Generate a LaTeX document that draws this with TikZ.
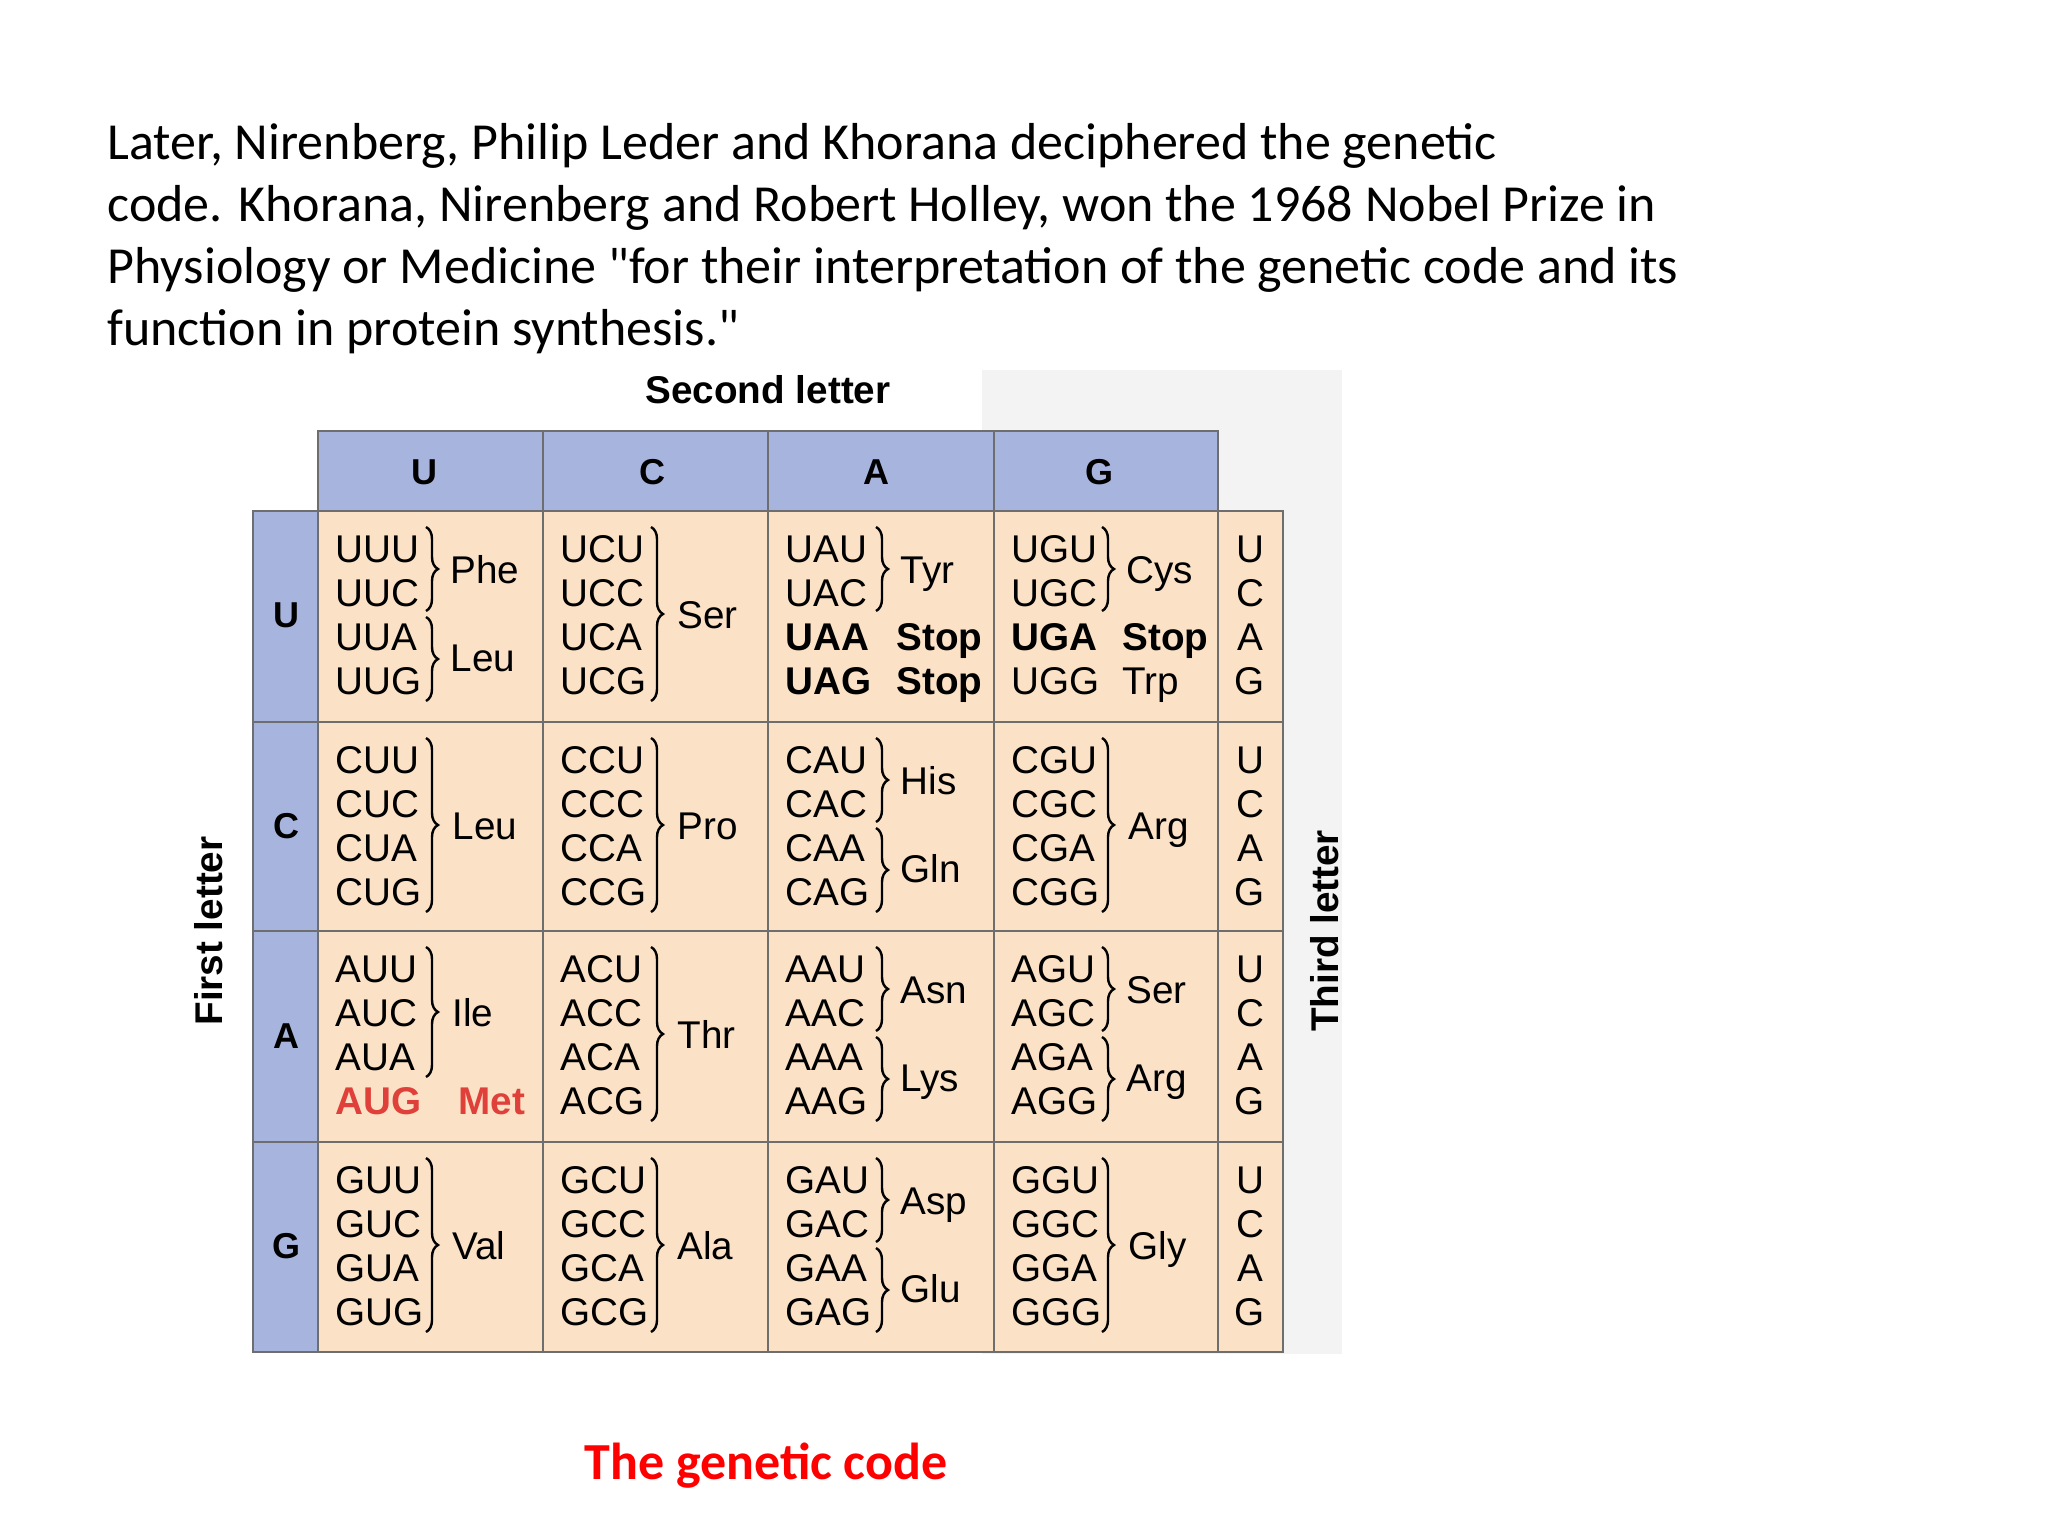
\documentclass[tikz,border=0pt]{standalone}
\usepackage{fontspec}
\setmainfont{Carlito}
\newfontfamily\arial{Liberation Sans}
\usetikzlibrary{decorations.pathreplacing}
\definecolor{hdr}{HTML}{A7B5DE}
\definecolor{peach}{HTML}{FBE2C6}
\definecolor{gridc}{HTML}{6E6E6E}
\definecolor{metred}{HTML}{E0403A}
\definecolor{bggray}{HTML}{F3F3F3}
\tikzset{
  cod/.style={anchor=west,inner sep=0pt,font=\arial\fontsize{14.5}{15}\selectfont,text height=10.5pt,text depth=0pt},
  aa/.style={cod},
  lbl/.style={inner sep=0pt,font=\arial\bfseries\fontsize{13.5}{14}\selectfont,text height=9.8pt,text depth=0pt},
  axl/.style={inner sep=0pt,font=\arial\bfseries\fontsize{14.5}{15}\selectfont},
  br/.style={decorate,decoration={brace,amplitude=4.5pt},line width=0.9pt},
  para/.style={anchor=base west,inner sep=0pt,font=\fontsize{19.5}{23}\selectfont}
}
\newcommand{\codons}[6]{%
  \node[cod] at (#1+17,#2+37) {#3};
  \node[cod] at (#1+17,#2+81) {#4};
  \node[cod] at (#1+17,#2+125) {#5};
  \node[cod] at (#1+17,#2+169) {#6};}
\newcommand{\bfour}[3]{%
  \draw[br] (#1+108,#2+16) -- (#1+108,#2+190);
  \node[aa] at (#1+134,#2+103) {#3};}
\newcommand{\btop}[3]{%
  \draw[br] (#1+108,#2+16) -- (#1+108,#2+100);
  \node[aa] at (#1+132,#2+58) {#3};}
\newcommand{\bbot}[3]{%
  \draw[br] (#1+108,#2+106) -- (#1+108,#2+190);
  \node[aa] at (#1+132,#2+146) {#3};}
\begin{document}
\begin{tikzpicture}[x=0.375pt,y=-0.375pt]
\useasboundingbox (0,0) rectangle (2048,1536);
\fill[white] (0,0) rectangle (2048,1536);
% text
\node[para] (l1) at (107,159) {Later, Nirenberg, Philip Leder and Khorana deciphered the genetic};
\node[para] (l2) at (107,221) {code. Khorana, Nirenberg and Robert Holley, won the 1968 Nobel Prize in};
\node[para] (l3) at (107,283) {Physiology or Medicine \textquotedbl for their interpretation of the genetic code and its};
\node[para] (l4) at (107,345) {function in protein synthesis.\textquotedbl};
% gray backdrop
\fill[bggray] (982,370) rectangle (1342,1354);
% table fills
\fill[hdr] (318,431) rectangle (1218,511);
\fill[hdr] (253,511) rectangle (318,1352);
\fill[peach] (318,511) rectangle (1283,1352);
% grid
\begin{scope}[draw=gridc,line width=1.1pt]
\draw (318,431) rectangle (1218,511);
\foreach \x in {543,768,994} \draw (\x,431) -- (\x,1352);
\draw (253,511) rectangle (1283,1352);
\draw (318,511) -- (318,1352);
\draw (1218,511) -- (1218,1352);
\foreach \y in {722,931,1142} \draw (253,\y) -- (1283,\y);
\end{scope}
% labels
\node[axl] (sec) at (768,390) {Second letter};
\node[axl,rotate=90] (fir) at (209,931) {First letter};
\node[axl,rotate=90] (thi) at (1325,931) {Third letter};
\node[lbl] (hU) at (424,471) {U};
\node[lbl] (hC) at (652,471) {C};
\node[lbl] (hA) at (876,471) {A};
\node[lbl] (hG) at (1099,471) {G};
\node[lbl] (rU) at (286,614) {U};
\node[lbl] (rC) at (286,825) {C};
\node[lbl] (rA) at (286,1035) {A};
\node[lbl] (rG) at (286,1245) {G};
\foreach \y in {511,722,931,1142}{
  \node[cod,anchor=center] at (1250,\y+37) {U};
  \node[cod,anchor=center] at (1250,\y+81) {C};
  \node[cod,anchor=center] at (1250,\y+125) {A};
  \node[cod,anchor=center] at (1250,\y+169) {G};
}
% row U
\codons{318}{511}{UUU}{UUC}{UUA}{UUG}\btop{318}{511}{Phe}\bbot{318}{511}{Leu}
\codons{543}{511}{UCU}{UCC}{UCA}{UCG}\bfour{543}{511}{Ser}
\codons{768}{511}{UAU}{UAC}{\bfseries UAA}{\bfseries UAG}\btop{768}{511}{Tyr}
\node[cod,font=\arial\bfseries\fontsize{14.5}{15}\selectfont] at (768+128,511+125) {Stop};
\node[cod,font=\arial\bfseries\fontsize{14.5}{15}\selectfont] at (768+128,511+169) {Stop};
\codons{994}{511}{UGU}{UGC}{\bfseries UGA}{UGG}\btop{994}{511}{Cys}
\node[cod,font=\arial\bfseries\fontsize{14.5}{15}\selectfont] at (994+128,511+125) {Stop};
\node[cod] at (994+128,511+169) {Trp};
% row C
\codons{318}{722}{CUU}{CUC}{CUA}{CUG}\bfour{318}{722}{Leu}
\codons{543}{722}{CCU}{CCC}{CCA}{CCG}\bfour{543}{722}{Pro}
\codons{768}{722}{CAU}{CAC}{CAA}{CAG}\btop{768}{722}{His}\bbot{768}{722}{Gln}
\codons{994}{722}{CGU}{CGC}{CGA}{CGG}\bfour{994}{722}{Arg}
% row A
\codons{318}{931}{AUU}{AUC}{AUA}{\color{metred}\bfseries AUG}
\draw[br] (318+108,931+16) -- (318+108,931+146);
\node[aa] at (318+134,931+81) {Ile};
\node[cod,text=metred,font=\arial\bfseries\fontsize{14.5}{15}\selectfont] at (318+140,931+169) {Met};
\codons{543}{931}{ACU}{ACC}{ACA}{ACG}\bfour{543}{931}{Thr}
\codons{768}{931}{AAU}{AAC}{AAA}{AAG}\btop{768}{931}{Asn}\bbot{768}{931}{Lys}
\codons{994}{931}{AGU}{AGC}{AGA}{AGG}\btop{994}{931}{Ser}\bbot{994}{931}{Arg}
% row G
\codons{318}{1142}{GUU}{GUC}{GUA}{GUG}\bfour{318}{1142}{Val}
\codons{543}{1142}{GCU}{GCC}{GCA}{GCG}\bfour{543}{1142}{Ala}
\codons{768}{1142}{GAU}{GAC}{GAA}{GAG}\btop{768}{1142}{Asp}\bbot{768}{1142}{Glu}
\codons{994}{1142}{GGU}{GGC}{GGA}{GGG}\bfour{994}{1142}{Gly}
% caption
\node[inner sep=0pt,text=red,font=\bfseries\fontsize{19.5}{23}\selectfont] (cap) at (766,1466) {The genetic code};
\end{tikzpicture}
\end{document}
